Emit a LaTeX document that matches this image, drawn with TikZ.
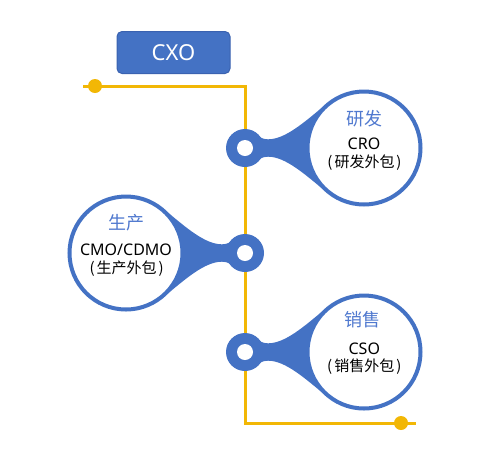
\documentclass[tikz,border=0pt]{standalone}
\usepackage{fontspec}
\setmainfont{Noto Sans}
\newfontfamily\cjk{Noto Sans CJK SC}
\definecolor{bluec}{HTML}{4472C4}
\definecolor{boxedge}{HTML}{3A62B0}
\definecolor{titleblue}{HTML}{5079CF}
\definecolor{yel}{HTML}{F2B705}
\tikzset{
  branch/.pic={
    \fill[bluec] (119,0) -- (81.7,-44.4) .. controls (58.7,-25.1) and (40,-8.7) .. (23,-8.7)
      .. controls (17,-8.7) and (14,-11) .. (11,-15) -- (0,0) -- (11,15)
      .. controls (14,11) and (17,8.7) .. (23,8.7)
      .. controls (40,8.7) and (58.7,25.1) .. (81.7,44.4) -- cycle;
    \fill[bluec] (0,0) circle (19);
    \fill[white] (0,0) circle (8);
    \draw[bluec, line width=4, fill=white] (119,0) circle (56.5);
  },
  lat/.style={font=\fontsize{16}{16}\selectfont, text=black, inner sep=0},
  cn/.style={font=\cjk\fontsize{15}{15}\selectfont, text=black, inner sep=0},
  ttl/.style={font=\cjk\fontsize{18}{18}\selectfont, text=titleblue, inner sep=0},
  yline/.style={draw=yel, line width=3},
  ydot/.style={circle, fill=yel, minimum size=14, inner sep=0},
  cxobox/.style={draw=boxedge, line width=1, fill=bluec, rounded corners=5, text=white,
    minimum width=113, minimum height=42, inner sep=0, font=\fontsize{22}{22}\selectfont}
}
\begin{document}
\begin{tikzpicture}[x=1pt,y=-1pt]
\useasboundingbox (0,0) rectangle (502,451);
\node[cxobox] (cxo) at (173.5,52.5) {CXO};
\coordinate (ls) at (83,86);
\coordinate (c1) at (245,86);
\coordinate (c2) at (245,423);
\coordinate (le) at (416,423);
\draw[yline] (ls) -- (c1) -- (c2) -- (le);
\node[ydot] (d1) at (95,86) {};
\node[ydot] (d2) at (401,423) {};
\pic at (245,148) {branch};
\pic[xscale=-1] at (245,253) {branch};
\pic at (245,352) {branch};
\node[ttl] (t1) at (364.5,118.3) {研发};
\node[lat] (l1) at (364,143.3) {CRO};
\node[cn] (p1) at (364.5,162.3) {(\kern2pt 研发外包\kern2pt)};
\node[ttl] (t2) at (126.7,223) {生产};
\node[lat] (l2) at (126,250) {CMO/CDMO};
\node[cn] (p2) at (126.7,268.3) {(\kern2pt 生产外包\kern2pt)};
\node[ttl] (t3) at (362,320) {销售};
\node[lat] (l3) at (364.3,348.3) {CSO};
\node[cn] (p3) at (364.3,366.7) {(\kern2pt 销售外包\kern2pt)};
\end{tikzpicture}
\end{document}
